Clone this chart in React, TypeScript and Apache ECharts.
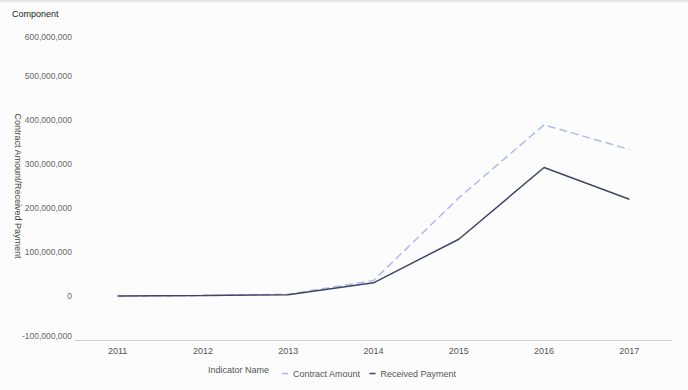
import React, { useEffect, useRef } from "react";
import * as echarts from "echarts";

const years = ["2011", "2012", "2013", "2014", "2015", "2016", "2017"];
const contractAmount = [0, 1000000, 4000000, 35000000, 223000000, 389000000, 333000000];
const receivedPayment = [0, 1000000, 3000000, 30000000, 129000000, 292000000, 220000000];
const seriesNames = ["Contract Amount", "Received Payment"];

export default function App() {
  const ref = useRef<HTMLDivElement>(null);
  useEffect(() => {
    if (!ref.current) return;
    const chart = echarts.init(ref.current, null, { renderer: "svg" });
    const fontFamily = "'Liberation Sans', Arial, sans-serif";
    chart.setOption({
      animation: false,
      backgroundColor: "#fcfcfc",
      textStyle: { fontFamily },
      title: {
        text: "Component",
        left: 12,
        top: 9,
        padding: 0,
        textStyle: { fontSize: 9, fontWeight: "normal", color: "#222", fontFamily },
      },
      graphic: [
        {
          type: "rect",
          shape: { x: 0, y: 0, width: 688, height: 2 },
          style: { fill: "#e6e6e6" },
        },
        {
          type: "text",
          left: 208,
          top: 365,
          style: { text: "Indicator Name", fill: "#555", font: `9px ${fontFamily}` },
        },
      ],
      legend: {
        data: seriesNames,
        left: 277,
        top: 364,
        itemWidth: 6,
        itemHeight: 1.5,
        itemGap: 9,
        icon: "rect",
        textStyle: { fontSize: 9, color: "#555", fontFamily },
      },
      grid: {
        left: 75,
        right: 16,
        top: 32,
        bottom: 50,
        containLabel: false,
        outerBoundsMode: "none",
      },
      xAxis: {
        type: "category",
        data: years,
        boundaryGap: true,
        axisLine: { onZero: false, lineStyle: { color: "#cfcfcf" } },
        axisTick: { show: false },
        axisLabel: { fontSize: 9, color: "#555", margin: 6 },
      },
      yAxis: {
        type: "value",
        min: -100000000,
        max: 600000000,
        interval: 100000000,
        name: "Contract Amount/Received Payment",
        nameLocation: "middle",
        nameRotate: -90,
        nameGap: 53,
        nameMoveOverlap: false,
        nameTextStyle: { fontSize: 9, color: "#444" },
        axisLine: { show: false },
        axisTick: { show: false },
        splitLine: { show: false },
        axisLabel: {
          fontSize: 8.5,
          color: "#666",
          margin: 3,
          verticalAlignMaxLabel: "top",
          verticalAlignMinLabel: "bottom",
          formatter: (v: number) => v.toLocaleString("en-US"),
        },
      },
      series: [
        {
          name: seriesNames[0],
          type: "line",
          data: contractAmount,
          symbol: "none",
          color: "#aebcec",
          lineStyle: { width: 1.5, type: [8, 4], color: "#aebcec" },
        },
        {
          name: seriesNames[1],
          type: "line",
          data: receivedPayment,
          symbol: "none",
          color: "#3f4766",
          lineStyle: { width: 1.5, color: "#3f4766" },
        },
      ],
    });
    return () => chart.dispose();
  }, []);
  return (
    <div
      ref={ref}
      style={{ position: "absolute", left: 0, top: 0, width: 688, height: 390 }}
    />
  );
}
